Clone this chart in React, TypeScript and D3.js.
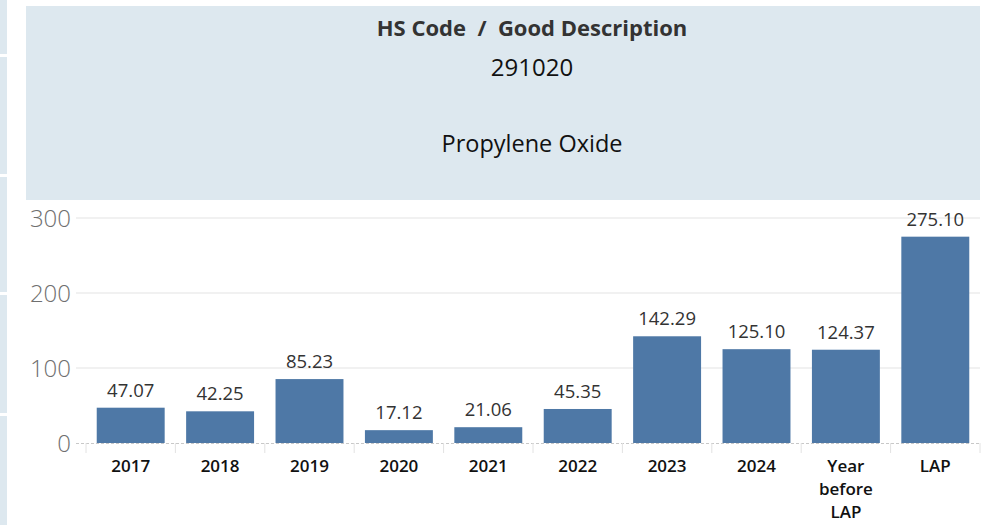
import * as d3 from "d3";
import { useEffect, useRef } from "react";

// ---- data ----
const categories = ["2017", "2018", "2019", "2020", "2021", "2022", "2023", "2024", "Year before LAP", "LAP"];
const values = [47.07, 42.25, 85.23, 17.12, 21.06, 45.35, 142.29, 125.1, 124.37, 275.1];
const yTicks = [0, 100, 200, 300];
const headerTitle = "HS Code  /  Good Description";
const hsCode = "291020";
const goodDescription = "Propylene Oxide";

const FONT = "'Open Sans', Lato, sans-serif";

export default function App() {
  const ref = useRef<SVGSVGElement | null>(null);

  useEffect(() => {
    const width = 990;
    const height = 525;
    const svg = d3.select(ref.current).attr("viewBox", `0 0 ${width} ${height}`);
    svg.selectAll("*").remove();

    // ---- left strip ----
    const strips = [[0, 54], [57, 174], [177, 292], [295, 413], [416, 525]];
    svg.append("g")
      .selectAll("rect")
      .data(strips)
      .join("rect")
      .attr("x", 0)
      .attr("width", 7)
      .attr("y", (d) => d[0])
      .attr("height", (d) => d[1] - d[0])
      .attr("fill", "#dde8ef");

    // ---- header panel ----
    svg.append("rect")
      .attr("x", 26).attr("y", 6).attr("width", 954).attr("height", 194)
      .attr("fill", "#dde8ef");

    const cx = 532;
    svg.append("text")
      .attr("x", cx).attr("y", 36)
      .attr("text-anchor", "middle")
      .attr("font-family", FONT).attr("font-weight", 700).attr("font-size", 22)
      .attr("fill", "#333")
      .style("white-space", "pre")
      .text(headerTitle);
    svg.append("text")
      .attr("x", cx).attr("y", 76)
      .attr("text-anchor", "middle")
      .attr("font-family", FONT).attr("font-size", 24)
      .attr("fill", "#111")
      .text(hsCode);
    svg.append("text")
      .attr("x", cx).attr("y", 152)
      .attr("text-anchor", "middle")
      .attr("font-family", FONT).attr("font-size", 23.5)
      .attr("fill", "#111")
      .text(goodDescription);

    // ---- scales ----
    const x = d3.scaleBand<string>().domain(categories).range([86, 980]).paddingInner(0.24).paddingOuter(0.12);
    const y = d3.scaleLinear().domain([0, 300]).range([443, 218]);

    // ---- gridlines ----
    svg.append("g")
      .selectAll("line")
      .data(yTicks.filter((d) => d > 0))
      .join("line")
      .attr("x1", 76).attr("x2", 980)
      .attr("y1", (d) => y(d)).attr("y2", (d) => y(d))
      .attr("stroke", "#ececec").attr("stroke-width", 1.5);

    // ---- y tick labels ----
    svg.append("g")
      .selectAll("text")
      .data(yTicks)
      .join("text")
      .attr("x", 71)
      .attr("y", (d) => y(d) + 9)
      .attr("text-anchor", "end")
      .attr("font-family", FONT).attr("font-size", 24).attr("font-weight", 300)
      .attr("fill", "#6f6f6f")
      .text((d) => d3.format("d")(d));

    // ---- bars ----
    svg.append("g")
      .selectAll("rect")
      .data(values)
      .join("rect")
      .attr("x", (_, i) => x(categories[i]) as number)
      .attr("width", x.bandwidth())
      .attr("y", (d) => y(d))
      .attr("height", (d) => y(0) - y(d))
      .attr("fill", "#4e78a6");

    // ---- zero line + tick marks ----
    svg.append("line")
      .attr("x1", 76).attr("x2", 980)
      .attr("y1", y(0) + 0.5).attr("y2", y(0) + 0.5)
      .attr("stroke", "#c8c8c8").attr("stroke-dasharray", "3,2");

    const bounds = categories.map((c) => (x(c) as number) - (x.step() - x.bandwidth()) / 2);
    bounds.push(980);
    svg.append("g")
      .selectAll("line")
      .data(bounds)
      .join("line")
      .attr("x1", (d) => d).attr("x2", (d) => d)
      .attr("y1", y(0)).attr("y2", y(0) + 10)
      .attr("stroke", "#e2e2e2").attr("stroke-width", 1);

    // ---- value labels ----
    svg.append("g")
      .selectAll("text")
      .data(values)
      .join("text")
      .attr("x", (_, i) => (x(categories[i]) as number) + x.bandwidth() / 2)
      .attr("y", (d) => y(d) - 11)
      .attr("text-anchor", "middle")
      .attr("font-family", FONT).attr("font-size", 18.5)
      .attr("fill", "#333")
      .text((d) => d3.format(".2f")(d));

    // ---- category labels ----
    const cat = svg.append("g")
      .selectAll("text")
      .data(categories)
      .join("text")
      .attr("x", (d) => (x(d) as number) + x.bandwidth() / 2)
      .attr("y", 472)
      .attr("text-anchor", "middle")
      .attr("font-family", FONT).attr("font-size", 17).attr("font-weight", 600)
      .attr("fill", "#111");
    cat.each(function (d) {
      const t = d3.select(this);
      d.split(" ").forEach((w, j) => {
        t.append("tspan")
          .attr("x", (x(d) as number) + x.bandwidth() / 2)
          .attr("dy", j === 0 ? 0 : 23)
          .text(w);
      });
    });
  }, []);

  return (
    <svg
      ref={ref}
      width={990}
      height={525}
      style={{ position: "absolute", left: 0, top: 0, background: "#fff" }}
    />
  );
}
